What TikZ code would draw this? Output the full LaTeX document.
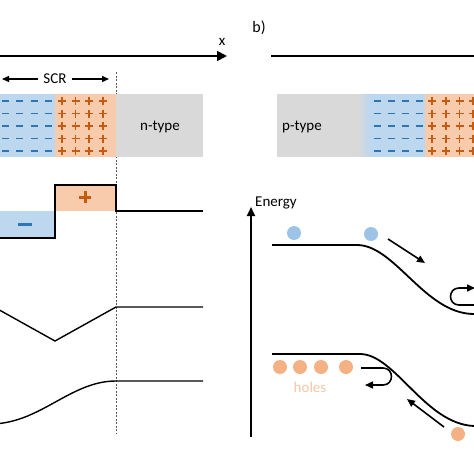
\documentclass[tikz,border=0pt]{standalone}
\usepackage{fontspec}
\setmainfont{Carlito}
\usetikzlibrary{arrows.meta}

\definecolor{nblue}{HTML}{BDD7EE}
\definecolor{porange}{HTML}{F8CBAD}
\definecolor{ngray}{HTML}{D9D9D9}
\definecolor{minusblue}{HTML}{2E75B6}
\definecolor{plusorange}{HTML}{C55A11}
\definecolor{ecol}{HTML}{9DC3E6}
\definecolor{hcol}{HTML}{F4B183}
\definecolor{htext}{HTML}{F2C6A6}

\begin{document}
\begin{tikzpicture}[x=1pt,y=-1pt,>={Triangle[length=8pt,width=7pt]}]

\tikzset{%
every label/.style={
font=\fontsize{15}{17}\selectfont,
inner sep=0pt
},
plot line/.style={
line width=1.4pt
},
band line/.style={
line width=1.8pt
},
minus sign/.style={
minusblue,
line width=1.9pt
},
plus sign/.style={
plusorange,
line width=1.8pt
},
every carrier/.style={
circle,
minimum size=14pt,
inner sep=0pt
},
carrier electron/.style={
fill=ecol
},
carrier hole/.style={
fill=hcol
},
}

\useasboundingbox (0,0) rectangle (474,474);
\clip (0,0) rectangle (474,474);

% Axis lines and labels
\coordinate (x-start) at (-2,56);
\coordinate (x-end) at (227,56);
\draw [->, line width=1.8pt, >={Triangle[length=10pt,width=10pt]}] (x-start) -- (x-end);
\node [every label/.try] (x-label) at (222,42) {x};
\node [every label/.try, font=\fontsize{16}{18}\selectfont] (b-label) at (259,28) {b)};
\coordinate (top-start) at (271,56);
\coordinate (top-end) at (476,56);
\draw [line width=1.8pt] (top-start) -- (top-end);

% Space charge region marker
\node [every label/.try] (scr) at (55,79) {SCR};
\coordinate (scr-left) at (2,79);
\coordinate (scr-right) at (109,79);
\draw [->, line width=1.4pt, >={Triangle[length=7pt,width=6pt]}] ([xshift=-5pt]scr.west) -- (scr-left);
\draw [->, line width=1.4pt, >={Triangle[length=7pt,width=6pt]}] ([xshift=5pt]scr.east) -- (scr-right);

% Junction boundary
\coordinate (edge-top) at (116,72);
\coordinate (edge-bottom) at (116,434);
\draw [black!65, line width=1pt, dash pattern=on 2pt off 1.5pt] (edge-top) -- (edge-bottom);

% Left junction bar
\fill [nblue] (-2,94) rectangle (55,157);
\fill [porange] (55,94) rectangle (116,157);
\fill [ngray] (116,94) rectangle (203,157);
\node [every label/.try] (n-type) at (160,127) {n-type};

% Right junction bar
\fill [ngray] (277,94) rectangle (357,157);
\foreach \k in {0,...,13}
\fill [nblue!\the\numexpr 100*\k/13\relax!ngray] (357+\k,94) rectangle (358.2+\k,157);
\fill [nblue] (371,94) rectangle (425,157);
\fill [porange] (425,94) rectangle (476,157);
\node [every label/.try] (p-type) at (302,127) {p-type};

% Fixed charges in both bars
\foreach \y in {101,113.5,126,138.5,151} {
\foreach \x in {5.5,19.5,34,48.5,377,391,405,419}
\draw [minus sign] (\x-3.5,\y) -- (\x+3.5,\y);
\foreach \x in {62,75.5,89,103,432,446,459.5,473}
\draw [plus sign] (\x-4,\y) -- (\x+4,\y) (\x,\y-4) -- (\x,\y+4);
}

% Charge density
\fill [nblue] (-2,211) rectangle (55,238);
\fill [porange] (55,185) rectangle (116,211);
\draw [plot line] (-2,238) -- (55,238) -- (55,185) -- (116,185) -- (116,211) -- (203,211);
\draw [minusblue, line width=3.5pt] (18,224.5) -- (32,224.5);
\draw [plusorange, line width=3pt] (79,197) -- (91,197) (85,191) -- (85,203);

% Electric field
\draw [plot line] (-6,307) -- (55,341) -- (116,307) -- (203,307);

% Potential
\draw [plot line] (-10,424) .. controls (40,424) and (70,381) .. (116,381) -- (203,381);

% Energy axis
\coordinate (e-base) at (251,437);
\coordinate (e-top) at (251,207);
\draw [->, line width=1.8pt, >={Triangle[length=9pt,width=8pt]}] (e-base) -- (e-top);
\node [every label/.try, anchor=west] (energy) at (255,203) {Energy};

% Conduction and valence band
\draw [band line] (272,245) -- (357,245) .. controls (395,245) and (425,314) .. (474,314) -- (480,314);
\draw [band line] (272,354) -- (360,354) .. controls (395,354) and (425,424) .. (474,426) -- (480,426);

% Carriers
\foreach \m/\x/\y [count=\i] in {electron/294/233, electron/371/234}
\node [every carrier/.try, carrier \m/.try] (electron-\i) at (\x,\y) {};
\foreach \m/\x/\y [count=\i] in {hole/280/367, hole/300/367, hole/321/367, hole/346/367, hole/458/434}
\node [every carrier/.try, carrier \m/.try] (hole-\i) at (\x,\y) {};
\node [every label/.try, text=htext] (holes) at (310,387) {holes};

% Carrier motion
\coordinate (drift-e-start) at (388,239);
\coordinate (drift-e-end) at (425,263);
\draw [->, line width=1.6pt] (drift-e-start) -- (drift-e-end);
\coordinate (drift-h-start) at (444,427);
\coordinate (drift-h-end) at (407,399);
\draw [->, line width=1.6pt] (drift-h-start) -- (drift-h-end);
\coordinate (turn-h-start) at (361,368);
\coordinate (turn-h-end) at (365,385);
\draw [->, line width=1.6pt] (turn-h-start) -- (383,368) to[out=0,in=0,looseness=1.7] (383,385) -- (turn-h-end);
\coordinate (turn-e-start) at (478,305);
\coordinate (turn-e-end) at (475,288);
\draw [->, line width=1.6pt] (turn-e-start) -- (459,305) to[out=180,in=180,looseness=1.7] (459,288) -- (turn-e-end);

\end{tikzpicture}
\end{document}
